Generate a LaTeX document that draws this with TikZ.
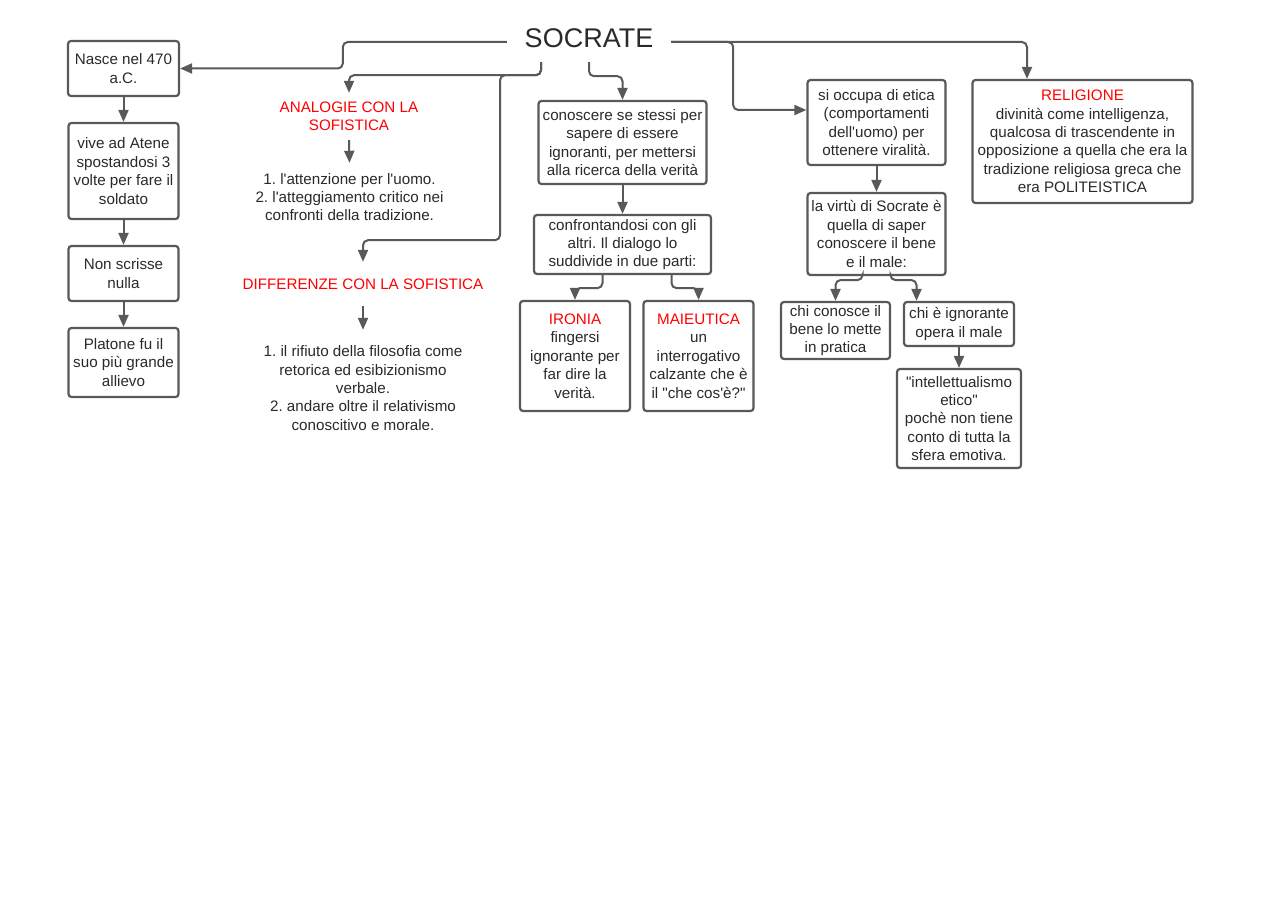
\documentclass[tikz,border=0pt]{standalone}
\usepackage{fontspec}
\setmainfont{Liberation Sans}[Ligatures=TeXOff]
\usetikzlibrary{arrows.meta}
\definecolor{linec}{HTML}{595959}
\definecolor{txt}{HTML}{2A2A2A}
\definecolor{redt}{HTML}{FF0000}
\newcommand\bodyfs{\fontsize{15.2}{18.4}\selectfont}
\newcommand\rt[1]{\textcolor{redt}{#1}}
\frenchspacing
\tikzset{
  box/.style={draw=linec, line width=2.2pt, rounded corners=3pt, align=center, inner sep=0pt, text=txt, font=\bodyfs},
  plain/.style={align=center, inner sep=0pt, text=txt, font=\bodyfs},
  conn/.style={draw=linec, line width=2pt, rounded corners=5pt, -{Triangle[length=12pt,width=10pt]}},
}
\begin{document}
\begin{tikzpicture}[x=1pt,y=-1pt]
\fill[white] (0,0) rectangle (1280,904);
\useasboundingbox (0,0) rectangle (1280,904);

% title
\node[plain, font=\fontsize{27}{30}\selectfont, minimum width=164, minimum height=48] (socrate) at (589,38) {SOCRATE};

% left column
\node[box, minimum width=111, minimum height=55] (nasce) at (123.5,68.5) {Nasce nel 470\\a.C.};
\node[box, minimum width=110, minimum height=96] (vive) at (123.5,171) {vive ad Atene\\spostandosi 3\\volte per fare il\\soldato};
\node[box, minimum width=110, minimum height=55] (nonscr) at (123.5,273.5) {Non scrisse\\nulla};
\node[box, minimum width=110, minimum height=69] (platone) at (123.5,362.5) {Platone fu il\\suo più grande\\allievo};

% sofistica
\node[plain, minimum height=47] (analogie) at (349,116.5) {\rt{ANALOGIE CON LA}\\\rt{SOFISTICA}};
\node[plain, minimum height=68] (list1) at (349.5,197) {1. l'attenzione per l'uomo.\\2. l'atteggiamento critico nei\\confronti della tradizione.};
\node[plain, minimum height=44] (differenze) at (363,284) {\rt{DIFFERENZE CON LA SOFISTICA}};
\node[plain, minimum height=116] (list2) at (363,388) {1. il rifiuto della filosofia come\\retorica ed esibizionismo\\verbale.\\2. andare oltre il relativismo\\conoscitivo e morale.};

% centre
\node[box, minimum width=168, minimum height=83] (conoscere) at (622.5,142.5) {conoscere se stessi per\\sapere di essere\\ignoranti, per mettersi\\alla ricerca della verità};
\node[box, minimum width=177, minimum height=59] (confr) at (622.5,244.5) {confrontandosi con gli\\altri. Il dialogo lo\\suddivide in due parti:};
\node[box, minimum width=110, minimum height=110] (ironia) at (575,356) {\rt{IRONIA}\\fingersi\\ignorante per\\far dire la\\verità.};
\node[box, minimum width=110, minimum height=110] (maieutica) at (698.5,356) {\rt{MAIEUTICA}\\un\\interrogativo\\calzante che è\\il "che cos'è?"};

% etica
\node[box, minimum width=138, minimum height=85] (siocc) at (876.5,122.5) {si occupa di etica\\(comportamenti\\dell'uomo) per\\ottenere viralità.};
\node[box, minimum width=138, minimum height=82] (virtu) at (876.5,234) {la virtù di Socrate è\\quella di saper\\conoscere il bene\\e il male:};
\node[box, minimum width=109, minimum height=57] (chicon) at (835.5,330.5) {chi conosce il\\bene lo mette\\in pratica};
\node[box, minimum width=110, minimum height=44] (chiign) at (959,324) {chi è ignorante\\opera il male};
\node[box, minimum width=124, minimum height=99] (intell) at (959,418.5) {"intellettualismo\\etico"\\pochè non tiene\\conto di tutta la\\sfera emotiva.};

% religione
\node[box, minimum width=220, minimum height=123] (religione) at (1082.5,141.5) {\rt{RELIGIONE}\\divinità come intelligenza,\\qualcosa di trascendente in\\opposizione a quella che era la\\tradizione religiosa greca che\\era POLITEISTICA};

% connectors from SOCRATE
\draw[conn] ([yshift=-4pt]socrate.west) -- ++(-164,0) |- (nasce.east);
\draw[conn] ([yshift=-4pt]socrate.east) -| ([xshift=-55.5pt]religione.north);
\draw[conn] ([yshift=-4pt]socrate.east) -- ++(62,0) |- ([yshift=12.5pt]siocc.west);
\draw[conn] ([xshift=-48pt]socrate.south) -- ++(0,13) -| (analogie.north);
\draw[conn] ([xshift=-48pt]socrate.south) |- ++(-41,13) -- ++(0,165) -| (differenze.north);
\draw[conn] (socrate.south) -- ++(0,14) -| (conoscere.north);

% left chain
\draw[conn] (nasce.south) -- (vive.north);
\draw[conn] (vive.south) -- (nonscr.north);
\draw[conn] (nonscr.south) -- (platone.north);

% sofistica
\draw[conn] (analogie.south) -- (list1.north);
\draw[conn] (differenze.south) -- (list2.north);

% centre
\draw[conn] (conoscere.south) -- (confr.north);
\draw[conn] ([xshift=-20pt]confr.south) -- ++(0,13) -| (ironia.north);
\draw[conn] ([xshift=49pt]confr.south) -- ++(0,13) -| (maieutica.north);

% etica
\draw[conn] (siocc.south) -- (virtu.north);
\draw[conn] ([xshift=-14pt]virtu.south) -- ++(0,4) -| (chicon.north);
\draw[conn] ([xshift=14pt]virtu.south) -- ++(0,4) -| ([xshift=-42.5pt]chiign.north);
\draw[conn] (chiign.south) -- (intell.north);
\end{tikzpicture}
\end{document}
